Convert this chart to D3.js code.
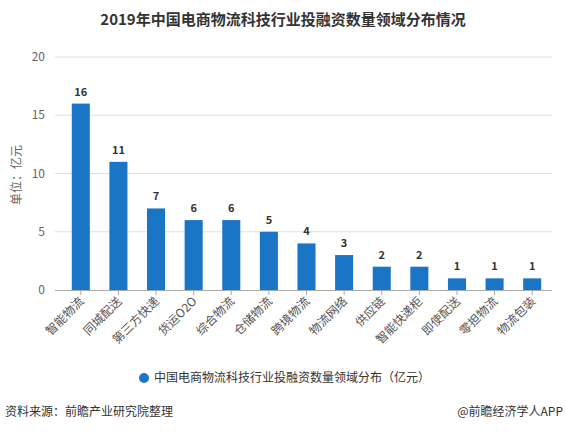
<!DOCTYPE html>
<html><head><meta charset="utf-8">
<script src="https://cdn.jsdelivr.net/npm/d3@7"></script>
<style>body{margin:0;background:#fff;font-family:"Microsoft YaHei","Noto Sans CJK SC",sans-serif}</style>
</head><body><svg id="c" width="566" height="433"></svg>
<script>
const categories=["智能物流","同城配送","第三方快递","货运O2O","综合物流","仓储物流","跨境物流","物流网络","供应链","智能快递柜","即使配送","零担物流","物流包装"];
const values=[16,11,7,6,6,5,4,3,2,2,1,1,1];
const yTicks=[0,5,10,15,20];
const title="2019年中国电商物流科技行业投融资数量领域分布情况";
const seriesName="中国电商物流科技行业投融资数量领域分布（亿元）";
const color="#1b75c6";
const svg=d3.select("#c");
const F='"Noto Sans CJK SC",sans-serif';
const x=d3.scaleBand().domain(categories).range([62,551]).paddingInner(0.52).paddingOuter(0.26);
const y=d3.scaleLinear().domain([0,20]).range([290,57]);
svg.append("text").attr("x",283).attr("y",25).attr("text-anchor","middle").attr("font-family",F).attr("font-weight","bold").attr("font-size",15).attr("fill","#333").text(title);
svg.append("g").selectAll("line").data(yTicks.slice(1)).join("line").attr("x1",55).attr("x2",552).attr("y1",d=>y(d)).attr("y2",d=>y(d)).attr("stroke","#e0e0e0");
svg.append("g").selectAll("text").data(yTicks).join("text").attr("x",45).attr("y",d=>y(d)+4).attr("text-anchor","end").attr("font-family",F).attr("font-size",12).attr("fill","#666").text(d=>d);
svg.append("text").attr("transform","translate(21,175) rotate(-90)").attr("text-anchor","middle").attr("font-family",F).attr("font-size",12).attr("fill","#666").text("单位：亿元");
svg.append("g").selectAll("rect").data(values).join("rect").attr("x",(d,i)=>x(categories[i])).attr("width",x.bandwidth()).attr("y",d=>y(d)).attr("height",d=>y(0)-y(d)).attr("fill",color);
svg.append("g").selectAll("text").data(values).join("text").attr("x",(d,i)=>x(categories[i])+x.bandwidth()/2).attr("y",d=>y(d)-8).attr("text-anchor","middle").attr("font-family",F).attr("font-weight","bold").attr("font-size",11).attr("fill","#333").text(d=>d);
svg.append("line").attr("x1",55).attr("x2",552).attr("y1",290.5).attr("y2",290.5).attr("stroke","#aaa");
const g=svg.append("g");
categories.forEach(c=>{const cx=x(c)+x.bandwidth()/2;
 g.append("line").attr("x1",cx).attr("x2",cx).attr("y1",290).attr("y2",295).attr("stroke","#aaa");
 g.append("text").attr("transform",`translate(${cx+4},${302}) rotate(-45)`).attr("text-anchor","end").attr("font-family",F).attr("font-size",12).attr("fill","#555").text(c);
});
svg.append("circle").attr("cx",144).attr("cy",378).attr("r",5).attr("fill",color);
svg.append("text").attr("x",154).attr("y",382).attr("font-family",F).attr("font-size",12).attr("fill","#333").text(seriesName);
svg.append("text").attr("x",5).attr("y",416).attr("font-family",F).attr("font-size",12).attr("fill","#333").text("资料来源：前瞻产业研究院整理");
svg.append("text").attr("x",563).attr("y",416).attr("text-anchor","end").attr("font-family",F).attr("font-size",12).attr("fill","#333").text("@前瞻经济学人APP");
</script></body></html>
